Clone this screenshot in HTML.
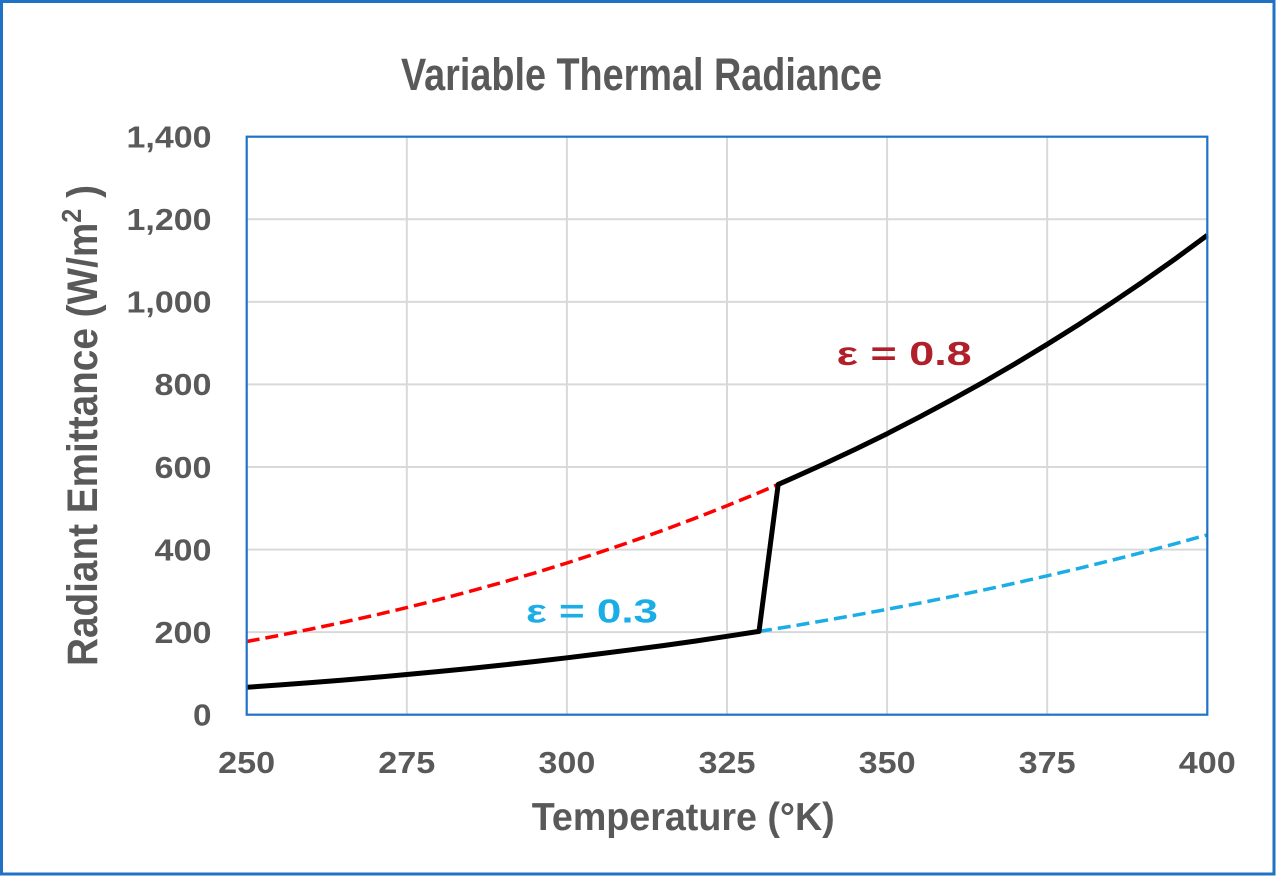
<!DOCTYPE html>
<html>
<head>
<meta charset="utf-8">
<style>
html,body{margin:0;padding:0;background:#fff;}
svg{display:block;}
text{font-family:"Liberation Sans",Arial,sans-serif;font-weight:bold;}
</style>
</head>
<body>
<svg width="1280" height="880" viewBox="0 0 1280 880" xmlns="http://www.w3.org/2000/svg">
<rect x="0" y="0" width="1280" height="880" fill="#fff"/>
<!-- outer border -->
<rect x="1.5" y="1.5" width="1272.5" height="872.5" fill="none" stroke="#1F72C4" stroke-width="3"/>

<!-- title -->
<text x="401" y="90" font-size="45" fill="#595959" textLength="481" lengthAdjust="spacingAndGlyphs">Variable Thermal Radiance</text>

<!-- gridlines -->
<g stroke="#D9D9D9" stroke-width="2">
<line x1="246.7" y1="632.1" x2="1207.3" y2="632.1"/>
<line x1="246.7" y1="549.6" x2="1207.3" y2="549.6"/>
<line x1="246.7" y1="467.0" x2="1207.3" y2="467.0"/>
<line x1="246.7" y1="384.4" x2="1207.3" y2="384.4"/>
<line x1="246.7" y1="301.9" x2="1207.3" y2="301.9"/>
<line x1="246.7" y1="219.3" x2="1207.3" y2="219.3"/>
<line x1="406.8" y1="136.7" x2="406.8" y2="714.7"/>
<line x1="566.9" y1="136.7" x2="566.9" y2="714.7"/>
<line x1="727.0" y1="136.7" x2="727.0" y2="714.7"/>
<line x1="887.1" y1="136.7" x2="887.1" y2="714.7"/>
<line x1="1047.2" y1="136.7" x2="1047.2" y2="714.7"/>
</g>

<!-- red dashed eps=0.8 (250-333) -->
<polyline fill="none" stroke="#FF0000" stroke-width="3.5" stroke-dasharray="13 6" points="246.7,641.5 278.7,635.5 310.7,629.1 342.8,622.3 374.8,615.2 406.8,607.6 438.8,599.6 470.8,591.1 502.9,582.2 534.9,572.9 566.9,563.0 598.9,552.6 630.9,541.7 663.0,530.3 695.0,518.3 727.0,505.7 759.0,492.6 778.2,484.4"/>

<!-- blue dashed eps=0.3 (330-400) -->
<polyline fill="none" stroke="#1AADE6" stroke-width="3.5" stroke-dasharray="13 6" points="759.0,631.4 791.0,626.3 823.1,620.8 855.1,615.2 887.1,609.3 919.1,603.2 951.1,596.7 983.2,590.1 1015.2,583.1 1047.2,575.8 1079.2,568.3 1111.2,560.4 1143.3,552.2 1175.3,543.7 1207.3,534.9"/>

<!-- black combined -->
<polyline fill="none" stroke="#000" stroke-width="5" stroke-linejoin="round" points="246.7,687.3 278.7,685.0 310.7,682.6 342.8,680.1 374.8,677.4 406.8,674.5 438.8,671.5 470.8,668.4 502.9,665.0 534.9,661.5 566.9,657.8 598.9,653.9 630.9,649.8 663.0,645.6 695.0,641.1 727.0,636.3 759.0,631.4 778.2,484.4 791.0,478.8 823.1,464.4 855.1,449.4 887.1,433.7 919.1,417.2 951.1,400.1 983.2,382.3 1015.2,363.7 1047.2,344.3 1079.2,324.2 1111.2,303.2 1143.3,281.4 1175.3,258.8 1207.3,235.2"/>

<!-- plot border -->
<rect x="246.7" y="136.7" width="960.6" height="578" fill="none" stroke="#1F72C4" stroke-width="2.2"/>

<!-- y tick labels -->
<g font-size="31" fill="#595959" text-anchor="end">
<text x="211.5" y="725.5" textLength="18.5" lengthAdjust="spacingAndGlyphs">0</text>
<text x="211.5" y="642.9" textLength="57" lengthAdjust="spacingAndGlyphs">200</text>
<text x="211.5" y="560.4" textLength="57" lengthAdjust="spacingAndGlyphs">400</text>
<text x="211.5" y="477.8" textLength="57" lengthAdjust="spacingAndGlyphs">600</text>
<text x="211.5" y="395.2" textLength="57" lengthAdjust="spacingAndGlyphs">800</text>
<text x="211.5" y="312.7" textLength="85" lengthAdjust="spacingAndGlyphs">1,000</text>
<text x="211.5" y="230.1" textLength="85" lengthAdjust="spacingAndGlyphs">1,200</text>
<text x="211.5" y="147.5" textLength="85" lengthAdjust="spacingAndGlyphs">1,400</text>
</g>

<!-- x tick labels -->
<g font-size="31" fill="#595959">
<text x="218.2" y="773" textLength="57" lengthAdjust="spacingAndGlyphs">250</text>
<text x="378.3" y="773" textLength="57" lengthAdjust="spacingAndGlyphs">275</text>
<text x="538.4" y="773" textLength="57" lengthAdjust="spacingAndGlyphs">300</text>
<text x="698.5" y="773" textLength="57" lengthAdjust="spacingAndGlyphs">325</text>
<text x="858.6" y="773" textLength="57" lengthAdjust="spacingAndGlyphs">350</text>
<text x="1018.7" y="773" textLength="57" lengthAdjust="spacingAndGlyphs">375</text>
<text x="1178.8" y="773" textLength="57" lengthAdjust="spacingAndGlyphs">400</text>
</g>

<!-- axis titles -->
<text x="531.7" y="830" font-size="39" fill="#595959" textLength="303" lengthAdjust="spacingAndGlyphs">Temperature (°K)</text>
<text transform="translate(97,666) rotate(-90)" x="0" y="0" font-size="43" fill="#595959" textLength="481" lengthAdjust="spacingAndGlyphs">Radiant Emittance (W/m<tspan font-size="28" dy="-16">2</tspan><tspan dy="16"> )</tspan></text>

<!-- annotations -->
<text x="836.7" y="365" font-size="33" fill="#B0202A" textLength="135" lengthAdjust="spacingAndGlyphs">ε = 0.8</text>
<text x="526" y="622.3" font-size="33" fill="#1AADE6" textLength="132" lengthAdjust="spacingAndGlyphs">ε = 0.3</text>
</svg>
</body>
</html>
